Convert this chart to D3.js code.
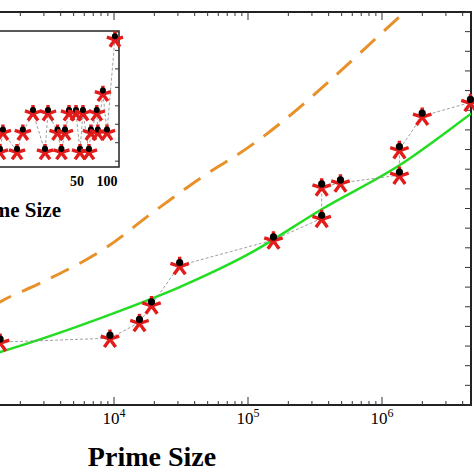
<!DOCTYPE html><html><head><script src="https://cdn.jsdelivr.net/npm/d3@7"></script>
<style>body{margin:0;background:#fff}text{font-family:"Liberation Serif","Times New Roman",serif}</style></head><body><svg id="c" width="474" height="474"></svg><script>
// main data (log10 of prime size, value)
const mainX=[3.15,3.97,4.19,4.28,4.49,5.19,5.55,5.55,5.69,6.13,6.13,6.30,6.66];
const mainY=[3.2,3.4,4.2,5.1,7.1,8.4,9.5,11.1,11.3,11.7,13.0,14.7,15.4];
const greenX=[3.1,3.15,3.97,4.49,5.01,5.56,6.13,6.66,6.8];
const greenY=[2.6,2.7,4.6,6.0,7.7,10.0,12.2,14.8,15.5];
const orangeX=[3.1,3.15,3.45,3.95,4.29,4.77,4.89,6.17,6.3];
const orangeY=[5.05,5.25,6.2,8.05,9.8,12.1,12.6,20,20.8];
const insetX=[8.5,9.1,12.6,14.4,18.2,24,25.7,32,35,38,41.7,49,53.7,57.5,66,69,79,81,91,100,120];
const insetY=[1,2,1,2,3,1,3,2,1,2,3,3,1,3,1,2,3,2,4,2,6.8];
const mainTicks=["10^4","10^5","10^6"];
const insetTicks=[50,100];

const svg=d3.select("#c");
const x=d3.scaleLinear().domain([4,5]).range([114,248]);
const y=d3.scaleLinear().domain([0,20]).range([405,12]);
const L=-20,R=471,T=12,B=405;
svg.append("defs").append("clipPath").attr("id","cp").append("rect").attr("x",L).attr("y",T).attr("width",R-L).attr("height",B-T);
svg.append("rect").attr("x",L).attr("y",T).attr("width",R-L).attr("height",B-T).attr("fill","none").attr("stroke","#222").attr("stroke-width",2);
const g=svg.append("g").attr("stroke","#333").attr("stroke-width",1);
for(let d=3;d<=6;d++)for(let m=1;m<10;m++){const v=d+Math.log10(m),px=x(v);if(px<0||px>R)continue;const len=m==1?8:4;
 g.append("line").attr("x1",px).attr("x2",px).attr("y1",B).attr("y2",B-len);
 g.append("line").attr("x1",px).attr("x2",px).attr("y1",T).attr("y2",T+len);}
y.ticks(20).forEach(v=>{g.append("line").attr("x1",R).attr("x2",R-6).attr("y1",y(v)).attr("y2",y(v));});
mainTicks.forEach((t,i)=>{const tx=svg.append("text").attr("x",x(4+i)).attr("y",424).attr("text-anchor","middle").attr("font-size",17);
 tx.append("tspan").text("10");tx.append("tspan").attr("dy",-7).attr("font-size",12).text(t.split("^")[1]);});
svg.append("text").attr("x",152).attr("y",466).attr("text-anchor","middle").attr("font-size",28).attr("font-weight","bold").text("Prime Size");
const line=d3.line().curve(d3.curveMonotoneX);
const cg=svg.append("g").attr("clip-path","url(#cp)");
cg.append("path").attr("d",line(orangeX.map((v,i)=>[x(v),y(orangeY[i])]))).attr("fill","none").attr("stroke","#e8912a").attr("stroke-width",3).attr("stroke-dasharray","20,12");
cg.append("path").attr("d",line(greenX.map((v,i)=>[x(v),y(greenY[i])]))).attr("fill","none").attr("stroke","#22dd22").attr("stroke-width",2.5);
svg.append("path").attr("d",d3.line()(mainX.map((v,i)=>[x(v),y(mainY[i])]))).attr("fill","none").attr("stroke","#888").attr("stroke-width",0.8).attr("stroke-dasharray","3,2");
function astPath(r){const p=d3.path();for(let k=0;k<5;k++){const a=-Math.PI/2+k*2*Math.PI/5;p.moveTo(0,0);p.lineTo(r*Math.cos(a),r*Math.sin(a));}return p.toString();}
function marks(sel,pts,s){pts.forEach(([px,py])=>{sel.append("path").attr("d",astPath(8)).attr("transform",`translate(${px},${py+1}) scale(${s})`).attr("fill","none").attr("stroke","#e21b1b").attr("stroke-width",3.4/s).attr("stroke-linecap","square");
 sel.append("circle").attr("cx",px).attr("cy",py-3*s).attr("r",3.6*s).attr("fill","#000");});}
marks(svg.append("g"),mainX.map((v,i)=>[x(v),y(mainY[i])]),1);
const ix=d3.scaleLog().domain([10,100]).range([7,107]);
const iy=d3.scaleLinear().domain([0.2,7.2]).range([167,31]);
const ig=svg.append("g");
ig.append("rect").attr("x",-10).attr("y",31).attr("width",129).attr("height",136).attr("fill","#fff").attr("stroke","#222").attr("stroke-width",1.5);
for(let v=0.5;v<7.2;v+=0.95){ig.append("line").attr("x1",119).attr("x2",115).attr("y1",iy(v)).attr("y2",iy(v)).attr("stroke","#333");}
ig.append("path").attr("d",d3.line()(insetX.map((v,i)=>[ix(v),iy(insetY[i])]))).attr("fill","none").attr("stroke","#888").attr("stroke-width",0.8).attr("stroke-dasharray","3,2");
marks(ig,insetX.map((v,i)=>[ix(v),iy(insetY[i])]),0.85);
insetTicks.forEach(t=>ig.append("text").attr("x",ix(t)).attr("y",186).attr("text-anchor","middle").attr("font-size",14).attr("font-weight","bold").text(t));
ig.append("text").attr("x",61).attr("y",217).attr("text-anchor","end").attr("font-size",21).attr("font-weight","bold").text("Prime Size");
</script></body></html>
